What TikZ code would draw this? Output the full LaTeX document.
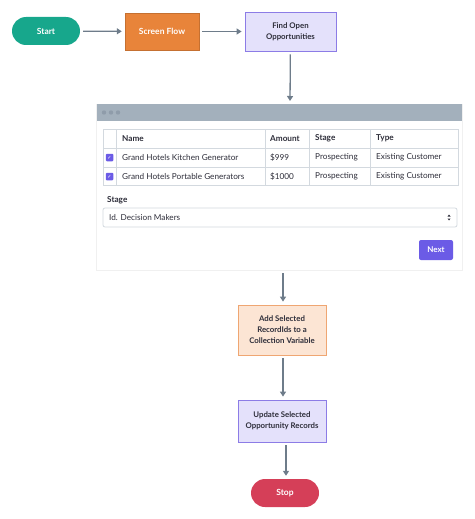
\documentclass[tikz,border=0pt]{standalone}
\usepackage{fontspec}
\setmainfont{Lato}
\newfontfamily\symfont{DejaVu Sans}
\usetikzlibrary{arrows.meta,shadows}
\definecolor{teal1}{HTML}{17A78C}
\definecolor{orange1}{HTML}{E8843A}
\definecolor{lav}{HTML}{E4E1FB}
\definecolor{lavb}{HTML}{8C7CE6}
\definecolor{peach}{HTML}{FCE5D4}
\definecolor{peachb}{HTML}{EFA672}
\definecolor{crim}{HTML}{D53F58}
\definecolor{arr}{HTML}{6E7C8A}
\definecolor{bar}{HTML}{A3B0BC}
\definecolor{dot}{HTML}{8F9CAA}
\definecolor{grid}{HTML}{D3D9DF}
\definecolor{btn}{HTML}{6B5BE6}
\definecolor{txt}{HTML}{2E2E3A}
\tikzset{
  pill/.style={rounded corners=14pt, text=white, font=\fontsize{8.5}{9}\selectfont\bfseries, inner sep=0pt},
  box/.style={draw=lavb, fill=lav, line width=0.8pt, text=txt, align=center, font=\fontsize{7.8}{11}\selectfont\bfseries, inner sep=0pt},
  flow/.style={draw=arr, line width=1.3pt, shorten <=3pt, shorten >=3pt, -{Triangle[length=5pt,width=6pt]}},
  cell/.style={font=\fontsize{8.2}{9}\selectfont, text=txt, anchor=west, inner sep=0pt},
  hcell/.style={cell, font=\fontsize{8.2}{9}\selectfont\bfseries},
  chk/.style={fill=btn, rounded corners=1pt, minimum size=7.5pt, inner sep=0pt, text=white, font=\symfont\fontsize{5}{5}\selectfont},
}
\begin{document}
\begin{tikzpicture}[x=1pt,y=-1pt]
\useasboundingbox (0,0) rectangle (474,519);
% top row
\node[pill, fill=teal1, minimum width=68pt, minimum height=28pt] (start) at (46,31) {Start};
\node[fill=orange1, draw=orange1!85!black, line width=0.4pt, text=white, font=\fontsize{8.5}{9}\selectfont\bfseries, minimum width=74pt, minimum height=37pt, inner sep=0pt] (screen) at (162,31.5) {Screen Flow};
\node[box, minimum width=91pt, minimum height=39pt] (find) at (290.5,31.5) {Find Open\\Opportunities};
\draw[flow] (start) -- (screen);
\draw[flow] (screen) -- (find);
% window
\fill[black!6] (96,104) rectangle (463,271);
\fill[white] (97,104) rectangle (462,270);
\fill[bar] (97,104) rectangle (462,121);
\node[coordinate] (wintop) at (290,104) {};
\node[coordinate] (winbot) at (283,270) {};
\foreach \x in {104,111,118} \fill[dot] (\x,112.5) circle (2.2);
% table
\draw[grid, line width=0.7pt] (103,129) rectangle (458,185);
\foreach \y in {148,167} \draw[grid, line width=0.7pt] (103,\y) -- (458,\y);
\foreach \x in {116,265,309,370} \draw[grid, line width=0.7pt] (\x,129) -- (\x,185);
\node[hcell] (hname) at (122,138.5) {Name};
\node[hcell] (hamt) at (270,138.5) {Amount};
\node[hcell] (hstage) at (315,138.5) {Stage};
\node[hcell] (htype) at (376,138.5) {Type};
\node[chk] (c1) at (109.5,157.5) {✓};
\node[cell] (n1) at (122,157.5) {Grand Hotels Kitchen Generator};
\node[cell] (a1) at (270,157.5) {\$999};
\node[cell] (s1) at (315,157.5) {Prospecting};
\node[cell] (t1) at (376,157.5) {Existing Customer};
\node[chk] (c2) at (109.5,176.5) {✓};
\node[cell] (n2) at (122,176.5) {Grand Hotels Portable Generators};
\node[cell] (a2) at (270,176.5) {\$1000};
\node[cell] (s2) at (315,176.5) {Prospecting};
\node[cell] (t2) at (376,176.5) {Existing Customer};
% stage select
\node[hcell] (stl) at (107,200) {Stage};
\draw[grid, line width=0.8pt, rounded corners=2pt] (103,208) rectangle (457,227);
\node[cell] (sel) at (109,217.5) {Id. Decision Makers};
\fill[txt] (449,214.5) -- (447.5,216.5) -- (450.5,216.5) -- cycle;
\fill[txt] (449,220.5) -- (447.5,218.5) -- (450.5,218.5) -- cycle;
\node[fill=btn, rounded corners=2pt, minimum width=34pt, minimum height=20pt, inner sep=0pt, text=white, font=\fontsize{8}{9}\selectfont\bfseries] (next) at (436,250) {Next};
\draw[flow] (find) -- (wintop);
% lower flow
\node[box, draw=peachb, fill=peach, minimum width=88pt, minimum height=50pt] (add) at (282,330) {Add Selected\\RecordIds to a\\Collection Variable};
\node[box, minimum width=88pt, minimum height=42pt] (upd) at (282,421) {Update Selected\\Opportunity Records};
\node[pill, fill=crim, minimum width=68pt, minimum height=28pt] (stop) at (285,493) {Stop};
\draw[flow] (winbot) -- (winbot |- add.north);
\draw[flow] ([xshift=1pt]add.south) -- ([xshift=1pt]add.south |- upd.north);
\draw[flow] ([xshift=4pt]upd.south) -- ([xshift=4pt]upd.south |- stop.north);
\end{tikzpicture}
\end{document}
